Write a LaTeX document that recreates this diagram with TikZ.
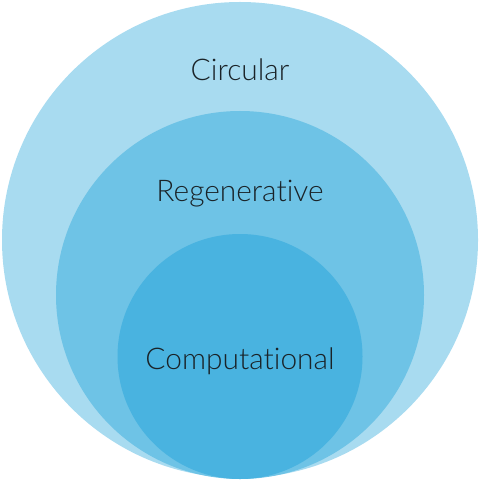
\documentclass[tikz,border=0pt]{standalone}
\usepackage{fontspec}
\setmainfont{Lato}[UprightFont=* Light, Ligatures={NoCommon,NoRequired,NoContextual,NoDiscretionary}]
\definecolor{cOuter}{HTML}{A8DBF0}
\definecolor{cMid}{HTML}{6EC3E6}
\definecolor{cInner}{HTML}{49B3E0}
\definecolor{cText}{HTML}{1A2328}
\tikzset{lbl/.style={text=cText, font=\fontsize{30}{32}\selectfont, inner sep=0pt}}
\begin{document}
\begin{tikzpicture}[x=1bp,y=-1bp]
\useasboundingbox (0,0) rectangle (480,480);
\fill[cOuter] (240,240) circle[radius=238];
\fill[cMid] (240,295) circle[radius=184];
\fill[cInner] (240,356.5) circle[radius=122.5];
\node[lbl] (circ) at (240,70) {Circular};
\node[lbl] (regen) at (240,194) {Regenerative};
\node[lbl] (comp) at (240,361) {Computational};
\end{tikzpicture}
\end{document}
